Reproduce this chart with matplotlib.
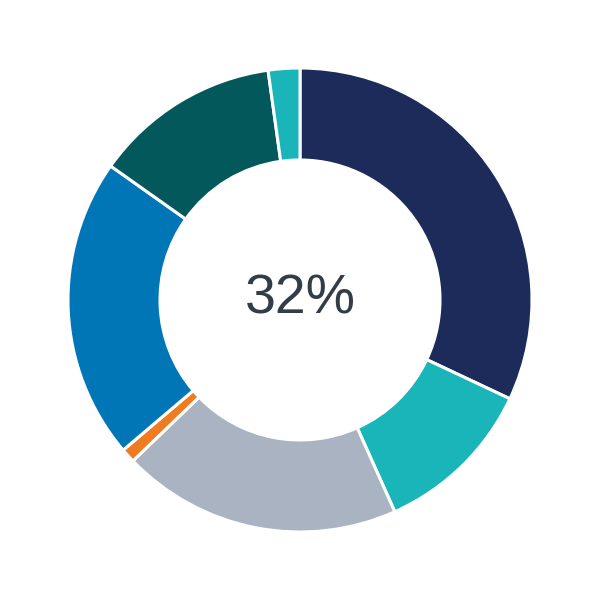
import matplotlib.pyplot as plt

labels = ['A', 'B', 'C', 'D', 'E', 'F', 'G']
values = [32, 11.3, 19.5, 1.0, 21.0, 13.0, 2.2]
colors = ['#1c2b5a', '#1ab5b8', '#a9b3c1', '#f07c22', '#0076b6', '#02585a', '#1ab5b8']
center_label = '32%'

fig = plt.figure(figsize=(6, 6), dpi=100)
ax = fig.add_axes([0, 0, 1, 1])

ax.pie(values, colors=colors, startangle=90, counterclock=False, radius=1,
       wedgeprops=dict(width=92 / 232, edgecolor='white', linewidth=2.2))

ax.text(0, 0, center_label, ha='center', va='center', fontsize=40,
        color='#333d47', family=['Liberation Sans', 'DejaVu Sans'])

lim = 300 / 232
ax.set_xlim(-lim, lim)
ax.set_ylim(-lim, lim)
ax.set_aspect('equal')
ax.axis('off')

fig.savefig('out.png', dpi=100, facecolor='white')
